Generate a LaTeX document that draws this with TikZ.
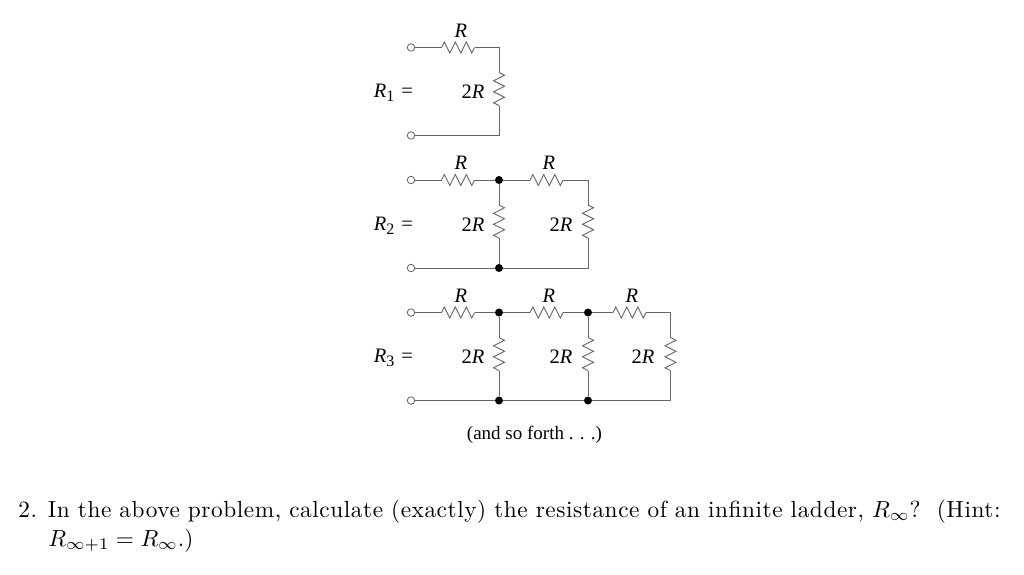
\documentclass[tikz,border=0pt]{standalone}
\usepackage{fontspec}
\usetikzlibrary{decorations.pathmorphing}
\newfontfamily\circfont{Liberation Serif}
\newfontfamily\probfont{Latin Modern Roman}[LetterSpace=2.4]
\newcommand{\lblR}{\textit{R}}
\newcommand{\lblTwoR}{2\textit{R}}
\newcommand{\lblEq}[1]{\textit{R}\raisebox{-4pt}{\fontsize{16}{16}\selectfont #1}\hspace{7pt}=}
\tikzset{
  wire/.style={draw=black!60, line width=0.9pt},
  zag/.style={wire, decorate, decoration={zigzag, segment length=11pt, amplitude=5.5pt}},
  term/.style={circle, draw=black!60, fill=white, line width=0.8pt, inner sep=0pt, minimum size=7.5pt},
  dot/.style={circle, fill=black, inner sep=0pt, minimum size=8pt},
  lbl/.style={font=\circfont\fontsize{20.5}{22}\selectfont, inner sep=0pt},
  textline/.style={scale=2.33, inner sep=0pt, anchor=base west}
}
\begin{document}
\begin{tikzpicture}[x=1pt, y=-1pt]
    \useasboundingbox (0,0) rectangle (1024,574);
    % first circuit
    \node[term] (ta1) at (411,47.5) {};
    \node[term] (tb1) at (411,135.5) {};
    \coordinate (za1) at (441.5,47.5);
    \coordinate (zb1) at (474.5,47.5);
    \coordinate (ca1) at (499,47.5);
    \coordinate (cb1) at (499,135.5);
    \coordinate (zc1) at (499,72.5);
    \coordinate (zd1) at (499,105.5);
    \draw[wire] (ta1) -- (za1);
    \draw[zag] (za1) -- (zb1);
    \draw[wire] (zb1) -- (ca1) -- (zc1);
    \draw[zag] (zc1) -- (zd1);
    \draw[wire] (zd1) -- (cb1) -- (tb1);
    \node[lbl] (r1a) at (461,31) {\lblR};
    \node[lbl] (r1b) at (473,92) {\lblTwoR};
    \node[lbl] (eq1) at (393.5,92.5) {\lblEq{1}};
    % second circuit
    \node[term] (ta2) at (411,180) {};
    \node[term] (tb2) at (411,268) {};
    \node[dot] (na2) at (499,180) {};
    \node[dot] (nb2) at (499,268) {};
    \coordinate (za2) at (441.5,180);
    \coordinate (zb2) at (474.5,180);
    \coordinate (zc2) at (499,205);
    \coordinate (zd2) at (499,238);
    \coordinate (ze2) at (530,180);
    \coordinate (zf2) at (563,180);
    \coordinate (ca2) at (588,180);
    \coordinate (cb2) at (588,268);
    \coordinate (zg2) at (588,205);
    \coordinate (zh2) at (588,238);
    \draw[wire] (ta2) -- (za2);
    \draw[zag] (za2) -- (zb2);
    \draw[wire] (zb2) -- (na2) -- (ze2);
    \draw[zag] (ze2) -- (zf2);
    \draw[wire] (zf2) -- (ca2) -- (zg2);
    \draw[zag] (zg2) -- (zh2);
    \draw[wire] (zh2) -- (cb2) -- (nb2) -- (tb2);
    \draw[wire] (na2) -- (zc2);
    \draw[zag] (zc2) -- (zd2);
    \draw[wire] (zd2) -- (nb2);
    \node[lbl] (r2a) at (461,163) {\lblR};
    \node[lbl] (r2b) at (549,163) {\lblR};
    \node[lbl] (r2c) at (473,225) {\lblTwoR};
    \node[lbl] (r2d) at (561,225) {\lblTwoR};
    \node[lbl] (eq2) at (393.5,225.5) {\lblEq{2}};
    % third circuit
    \node[term] (ta3) at (411,312.5) {};
    \node[term] (tb3) at (411,400.5) {};
    \node[dot] (na3) at (499,312.5) {};
    \node[dot] (nb3) at (499,400.5) {};
    \node[dot] (nc3) at (588,312.5) {};
    \node[dot] (nd3) at (588,400.5) {};
    \coordinate (za3) at (441.5,312.5);
    \coordinate (zb3) at (474.5,312.5);
    \coordinate (zc3) at (499,337.5);
    \coordinate (zd3) at (499,370.5);
    \coordinate (ze3) at (530,312.5);
    \coordinate (zf3) at (563,312.5);
    \coordinate (zg3) at (588,337.5);
    \coordinate (zh3) at (588,370.5);
    \coordinate (zi3) at (613,312.5);
    \coordinate (zj3) at (646,312.5);
    \coordinate (ca3) at (670.5,312.5);
    \coordinate (cb3) at (670.5,400.5);
    \coordinate (zk3) at (670.5,337.5);
    \coordinate (zl3) at (670.5,370.5);
    \draw[wire] (ta3) -- (za3);
    \draw[zag] (za3) -- (zb3);
    \draw[wire] (zb3) -- (na3) -- (ze3);
    \draw[zag] (ze3) -- (zf3);
    \draw[wire] (zf3) -- (nc3) -- (zi3);
    \draw[zag] (zi3) -- (zj3);
    \draw[wire] (zj3) -- (ca3) -- (zk3);
    \draw[zag] (zk3) -- (zl3);
    \draw[wire] (zl3) -- (cb3) -- (nd3) -- (nb3) -- (tb3);
    \draw[wire] (na3) -- (zc3);
    \draw[zag] (zc3) -- (zd3);
    \draw[wire] (zd3) -- (nb3);
    \draw[wire] (nc3) -- (zg3);
    \draw[zag] (zg3) -- (zh3);
    \draw[wire] (zh3) -- (nd3);
    \node[lbl] (r3a) at (461,295.5) {\lblR};
    \node[lbl] (r3b) at (549,295.5) {\lblR};
    \node[lbl] (r3c) at (632,295.5) {\lblR};
    \node[lbl] (r3d) at (473,357) {\lblTwoR};
    \node[lbl] (r3e) at (561,357) {\lblTwoR};
    \node[lbl] (r3f) at (643,357) {\lblTwoR};
    \node[lbl] (eq3) at (393.5,357.5) {\lblEq{3}};
    \node[lbl, font=\circfont\fontsize{19}{21}\selectfont] (note) at (534.5,434.5) {(and so forth . . .)};
    % problem text
    \node[textline] (line1) at (18,517) {\probfont\spaceskip=3.45pt 2. In the above problem, calculate (exactly) the resistance of an infinite ladder, $R_\infty$?\hspace{7pt}(Hint:};
    \node[textline] (line2) at (48,546) {$R_{\infty+1}=R_\infty$.)};
\end{tikzpicture}
\end{document}
